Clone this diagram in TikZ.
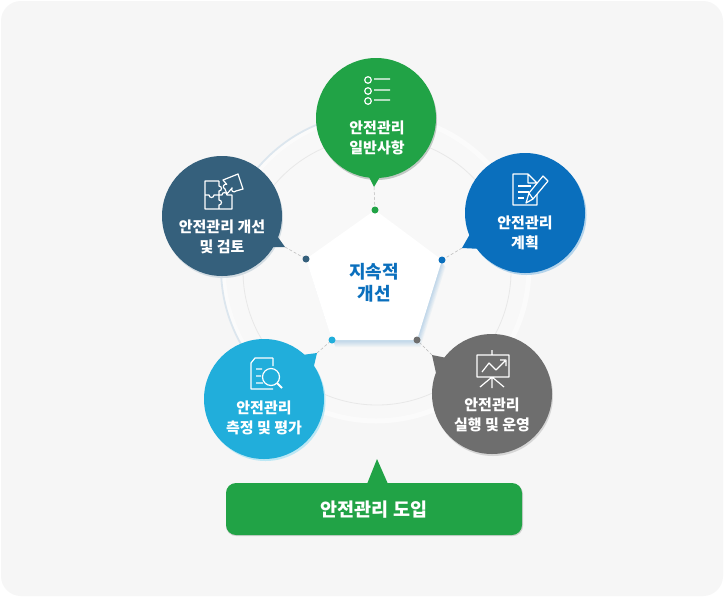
\documentclass[tikz,border=0pt]{standalone}
\usepackage{fontspec}
\newfontfamily\cjk{Noto Sans CJK KR}
\usetikzlibrary{shadows}
\definecolor{cGreen}{HTML}{21A346}
\definecolor{cBlue}{HTML}{0A6FBD}
\definecolor{cSlate}{HTML}{35607C}
\definecolor{cCyan}{HTML}{21AEDB}
\definecolor{cGray}{HTML}{6E6E6E}
\definecolor{cBack}{HTML}{F6F6F6}
\definecolor{cRing}{HTML}{DCE6EE}
\begin{document}
\begin{tikzpicture}[x=1pt,y=-1pt]
        \tikzstyle{bubble}=[circle,minimum size=120pt,inner sep=0pt]
        \tikzstyle{caption}=[white,align=center,inner sep=0pt,font=\cjk\bfseries\fontsize{15}{20.5}\selectfont]
        \tikzstyle{dot}=[circle,minimum size=7pt,inner sep=0pt]
        \tikzstyle{leader}=[densely dashed,black!28,line width=.5pt]
        \tikzstyle{icon}=[white,line width=1.2pt,line join=round]
        \useasboundingbox (0,0) rectangle (725,598);
        \fill[white] (0,0) rectangle (725,598);
        \fill[cBack,rounded corners=20pt] (1,1) rectangle (723,596);
        % rings
        \fill[white,opacity=.3] (376,268) circle (155);
        \draw[white,opacity=.5,line width=5pt] (376,268) circle (153);
        \begin{scope}
          \clip (200,100) rectangle (350,345);
          \draw[cRing,line width=1.8pt] (376,268) circle (155);
        \end{scope}
        \draw[black!9,line width=.8pt] (377,271) circle (134);
        % centre
        \foreach \d in {1,...,7}
          \fill[cBlue,opacity=.035,shift={(\d*.5,\d)}] (375,210) -- (442,260) -- (417,340) -- (332,340) -- (306,259) -- cycle;
        \fill[white] (375,210) -- (442,260) -- (417,340) -- (332,340) -- (306,259) -- cycle;
        \node[cBlue,align=center,inner sep=0pt,font=\cjk\bfseries\fontsize{18}{22}\selectfont] (center) at (374,283) {지속적\\개선};
        \node[dot,fill=cGreen] (dotGeneral) at (375,210) {};
        \node[dot,fill=cBlue] (dotPlan) at (442,260) {};
        \node[dot,fill=cGray] (dotRun) at (417,340) {};
        \node[dot,fill=cCyan] (dotCheck) at (332,340) {};
        \node[dot,fill=cSlate] (dotImprove) at (306,259) {};
        % bubbles
        \coordinate (tipGeneral) at (374,187);
        \coordinate (tipPlan) at (462,248);
        \coordinate (tipRun) at (432,355);
        \coordinate (tipCheck) at (317,353);
        \coordinate (tipImprove) at (285,247);
        \draw[leader] (tipGeneral) -- (dotGeneral);
        \draw[leader] (tipPlan) -- (dotPlan);
        \draw[leader] (tipRun) -- (dotRun);
        \draw[leader] (tipCheck) -- (dotCheck);
        \draw[leader] (tipImprove) -- (dotImprove);
        \node[bubble,fill=cGreen,general shadow={fill=cGreen!25!black!25,shadow xshift=1pt,shadow yshift=-2pt}] (general) at (376,118) {};
        \node[bubble,fill=cBlue,general shadow={fill=cBlue!30,shadow xshift=1.5pt,shadow yshift=-2pt}] (plan) at (525,213) {};
        \node[bubble,fill=cGray,general shadow={fill=black!16,shadow xshift=1pt,shadow yshift=-2pt}] (run) at (492,394) {};
        \node[bubble,fill=cCyan,general shadow={fill=cCyan!30,shadow xshift=1.5pt,shadow yshift=-2pt}] (check) at (264,399) {};
        \node[bubble,fill=cSlate,general shadow={fill=cSlate!22,shadow xshift=1pt,shadow yshift=-2pt}] (improve) at (222,216) {};
        \fill[cGreen] (tipGeneral) -- (368,175) -- (381,175) -- cycle;
        \fill[cBlue] (tipPlan) -- (470,234) -- (482,249) -- cycle;
        \fill[cGray] (tipRun) -- (447,358) -- (436,373) -- cycle;
        \fill[cCyan] (tipCheck) -- (302,355) -- (313,370) -- cycle;
        \fill[cSlate] (tipImprove) -- (265,247) -- (275,233) -- cycle;
        \node[caption] (generalText) at (377,138) {안전관리\\일반사항};
        \node[caption] (planText) at (525,233) {안전관리\\계획};
        \node[caption] (runText) at (492,415) {안전관리\\실행 및 운영};
        \node[caption] (checkText) at (264,418) {안전관리\\측정 및 평가};
        \node[caption] (improveText) at (222,237) {안전관리 개선\\및 검토};
        % icons
        \foreach \y in {80,91,101}
          \draw[icon] (368,\y) circle (3.3) (374,\y-1) -- (390,\y-1);
        \draw[icon] (528,174) -- (513,174) -- (513,205) -- (537,205) -- (537,183) -- (528,174) -- (528,183) -- (537,183);
        \draw[icon] (518,186) -- (531,186) (518,192) -- (529,192) (518,198) -- (524,198);
        \fill[cBlue] (526,203) -- (529,193) -- (543,176) -- (548,181) -- (533,199) -- cycle;
        \draw[icon] (526,203) -- (529,193) -- (543,176) -- (548,181) -- (533,199) -- cycle (529,193) -- (533,199);
        \draw[icon] (219,181) -- (205,181) -- (205,209) -- (232,209) -- (232,195) -- (227,195) arc (0:-180:2.5) -- (219,195) (205,195) -- (209,195) arc (180:0:2.5) -- (219,195) -- (219,200) arc (-90:90:2.5) -- (219,209) (219,181) -- (219,186) arc (-90:90:2.5) -- (219,195);
        \draw[icon] (223,180) -- (238,174) -- (243,189) -- (236,191) arc (40:220:2.5) -- (227,194) -- (225,189) arc (-70:110:-2.5) -- cycle;
        \draw[icon] (265,358) -- (255,358) -- (251,363) -- (251,389) -- (273,389) (273,358) -- (265,358) (273,358) -- (273,366) (256,369) -- (262,369) (256,376) -- (261,376) (256,383) -- (263,383);
        \draw[icon] (271,377) circle (8.5);
        \draw[white,line width=2pt] (277,383) -- (282,388);
        \draw[icon] (477,355) rectangle (509,377) (492,350) -- (492,355) (492,377) -- (480,387) (492,377) -- (492,388) (492,377) -- (504,387);
        \draw[icon] (482,372) -- (489,363) -- (496,370) -- (505,361) (500,360) -- (506,360) -- (506,366);
        % banner
        \fill[black!18,rounded corners=10pt] (226,484) rectangle (523,536);
        \fill[cGreen,rounded corners=10pt] (226,483) rectangle (522,535);
        \coordinate (tipBanner) at (377,459);
        \fill[cGreen] (tipBanner) -- (367,484) -- (388,484) -- cycle;
        \node[white,inner sep=0pt,font=\cjk\bfseries\fontsize{18.5}{20}\selectfont] (banner) at (374,510) {안전관리 도입};
      \end{tikzpicture}
\end{document}
